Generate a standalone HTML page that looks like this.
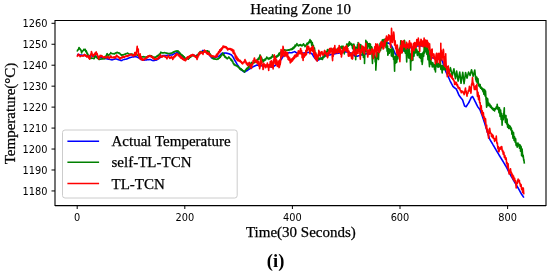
<!DOCTYPE html>
<html><head><meta charset="utf-8"><style>
html,body{margin:0;padding:0;background:#fff;}
svg{display:block;}
.tk{font-family:"DejaVu Sans",sans-serif;font-size:9.8px;fill:#000;}
.lb{font-family:"Liberation Serif",serif;font-size:15px;fill:#000;stroke:#000;stroke-width:0.25px;}
.bl{font-family:"Liberation Serif",serif;font-size:18.5px;font-weight:bold;fill:#000;}
</style></head><body>
<svg width="550" height="274" viewBox="0 0 550 274">
<rect x="0" y="0" width="550" height="274" fill="#fff"/>
<polyline points="77.00,54.40 77.20,54.44 77.74,54.55 78.28,54.66 78.81,54.76 79.35,54.87 79.89,54.98 80.00,55.00 80.43,55.04 80.97,55.10 81.50,55.15 82.04,55.20 82.58,55.26 83.12,55.31 83.66,55.37 84.19,55.42 84.73,55.47 85.00,55.50 85.27,55.53 85.81,55.58 86.35,55.63 86.88,55.69 87.42,55.74 87.96,55.80 88.50,55.85 89.04,55.90 89.57,55.96 90.00,56.00 90.11,56.00 90.65,56.02 91.19,56.04 91.73,56.06 92.26,56.08 92.80,56.09 93.34,56.11 93.88,56.13 94.42,56.15 94.95,56.17 95.49,56.18 96.00,56.20 96.03,56.21 96.57,56.38 97.11,56.56 97.64,56.73 98.18,56.91 98.72,57.08 99.26,57.26 99.80,57.43 100.00,57.50 100.33,57.57 100.87,57.67 101.41,57.78 101.95,57.89 102.49,58.00 103.02,58.10 103.56,58.21 104.10,58.32 104.64,58.43 105.00,58.50 105.18,58.53 105.71,58.62 106.25,58.72 106.79,58.81 107.33,58.91 107.87,59.00 108.40,59.10 108.94,59.19 109.00,59.20 109.48,59.31 110.02,59.44 110.56,59.56 111.09,59.69 111.63,59.81 112.00,59.90 112.17,59.85 112.71,59.68 113.25,59.52 113.78,59.35 114.32,59.19 114.86,59.03 115.40,58.86 115.60,58.80 115.94,58.90 116.47,59.05 117.01,59.21 117.55,59.37 118.00,59.50 118.09,59.53 118.63,59.70 119.16,59.87 119.70,60.03 120.24,60.20 120.78,60.37 121.32,60.54 121.50,60.60 121.85,60.42 122.39,60.15 122.93,59.89 123.47,59.62 123.70,59.50 124.01,59.46 124.54,59.39 125.08,59.32 125.62,59.25 126.00,59.20 126.16,59.13 126.70,58.90 127.23,58.67 127.77,58.44 128.31,58.21 128.85,57.98 129.39,57.75 129.50,57.70 129.92,57.60 130.46,57.47 131.00,57.34 131.54,57.21 132.08,57.08 132.40,57.00 132.61,56.98 133.15,56.92 133.69,56.86 134.23,56.80 134.77,56.74 135.30,56.69 135.84,56.63 136.10,56.60 136.38,56.74 136.92,56.99 137.46,57.25 137.99,57.51 138.53,57.77 139.00,58.00 139.07,58.05 139.61,58.41 140.15,58.78 140.68,59.15 141.20,59.50 141.22,59.51 141.76,59.64 142.30,59.77 142.84,59.89 143.37,60.02 143.91,60.15 144.10,60.20 144.45,60.15 144.99,60.08 145.53,60.00 146.06,59.93 146.60,59.85 147.00,59.80 147.14,59.79 147.68,59.74 148.22,59.69 148.75,59.64 149.29,59.59 149.83,59.53 150.20,59.50 150.37,59.56 150.91,59.77 151.44,59.97 151.98,60.18 152.52,60.38 153.06,60.58 153.10,60.60 153.60,60.53 154.13,60.46 154.67,60.38 155.21,60.31 155.75,60.23 156.00,60.20 156.29,60.04 156.82,59.73 157.36,59.43 157.90,59.12 158.44,58.82 158.98,58.51 159.00,58.50 159.51,58.07 160.05,57.62 160.59,57.18 161.13,56.73 161.67,56.28 162.20,55.83 162.60,55.50 162.74,55.50 163.28,55.50 163.82,55.50 164.36,55.50 164.89,55.50 165.43,55.50 165.97,55.50 166.20,55.50 166.51,55.47 167.05,55.41 167.58,55.35 168.12,55.29 168.66,55.23 169.20,55.18 169.74,55.12 169.90,55.10 170.27,55.08 170.81,55.06 171.35,55.03 171.89,55.01 172.00,55.00 172.43,54.76 172.96,54.46 173.50,54.15 174.04,53.85 174.30,53.70 174.58,53.59 175.12,53.39 175.65,53.19 176.19,52.98 176.73,52.78 177.20,52.60 177.27,52.64 177.81,52.97 178.34,53.30 178.88,53.62 179.42,53.95 179.50,54.00 179.96,54.43 180.50,54.92 181.03,55.42 181.57,55.92 182.11,56.42 182.30,56.60 182.65,56.95 183.19,57.49 183.72,58.02 184.26,58.56 184.80,59.10 185.20,59.50 185.34,59.44 185.88,59.21 186.41,58.97 186.95,58.74 187.49,58.50 187.50,58.50 188.03,58.18 188.57,57.86 189.10,57.54 189.64,57.21 190.00,57.00 190.18,56.88 190.72,56.52 191.26,56.16 191.79,55.80 192.33,55.45 192.87,55.09 193.00,55.00 193.41,55.14 193.95,55.32 194.48,55.49 195.02,55.67 195.56,55.85 196.00,56.00 196.10,55.93 196.64,55.58 197.17,55.22 197.71,54.86 198.25,54.50 198.79,54.14 199.00,54.00 199.33,53.71 199.86,53.22 200.40,52.74 200.94,52.25 201.48,51.77 202.02,51.29 202.55,50.80 203.00,50.40 203.09,50.44 203.63,50.65 204.17,50.87 204.71,51.08 205.24,51.30 205.78,51.51 206.32,51.73 206.86,51.94 207.00,52.00 207.40,52.51 207.93,53.19 208.47,53.88 209.01,54.57 209.55,55.25 210.09,55.94 210.62,56.63 211.16,57.31 211.70,58.00 211.70,58.00 212.24,57.92 212.78,57.84 213.31,57.76 213.85,57.67 214.39,57.59 214.93,57.51 215.00,57.50 215.47,57.35 216.00,57.17 216.54,57.00 217.08,56.82 217.62,56.65 218.16,56.47 218.69,56.30 219.00,56.20 219.23,55.98 219.77,55.46 220.31,54.94 220.85,54.42 221.38,53.90 221.92,53.38 222.00,53.30 222.46,53.26 223.00,53.22 223.54,53.18 224.07,53.14 224.61,53.09 225.15,53.05 225.69,53.01 225.80,53.00 226.23,53.10 226.76,53.22 227.30,53.35 227.84,53.48 228.38,53.60 228.80,53.70 228.92,53.76 229.45,54.02 229.99,54.28 230.53,54.54 231.07,54.79 231.61,55.05 231.70,55.10 232.14,55.77 232.68,56.57 233.22,57.38 233.50,57.80 233.76,58.28 234.30,59.29 234.83,60.29 235.00,60.60 235.37,61.26 235.91,62.21 236.45,63.17 236.99,64.12 237.20,64.50 237.52,64.96 238.06,65.74 238.60,66.51 239.14,67.28 239.50,67.80 239.68,67.99 240.21,68.59 240.75,69.18 241.29,69.77 241.50,70.00 241.83,70.23 242.37,70.61 242.90,70.98 243.44,71.36 243.98,71.74 244.50,72.10 244.52,72.09 245.06,71.76 245.59,71.43 246.13,71.10 246.67,70.77 247.21,70.45 247.75,70.12 248.10,69.90 248.28,69.78 248.82,69.42 249.36,69.07 249.90,68.71 250.44,68.36 250.97,68.01 251.51,67.65 252.05,67.30 252.50,67.00 252.59,66.96 253.13,66.72 253.66,66.47 254.20,66.23 254.74,65.98 255.28,65.74 255.82,65.49 256.35,65.25 256.89,65.00 256.90,65.00 257.43,65.09 257.97,65.17 258.51,65.26 259.04,65.35 259.58,65.43 260.00,65.50 260.12,65.51 260.66,65.55 261.20,65.59 261.73,65.63 262.27,65.67 262.81,65.71 263.35,65.75 263.89,65.79 264.00,65.80 264.42,65.86 264.96,65.94 265.50,66.01 266.04,66.09 266.58,66.17 267.11,66.24 267.65,66.32 268.19,66.40 268.73,66.48 269.27,66.55 269.60,66.60 269.80,66.65 270.34,66.78 270.88,66.91 271.42,67.04 271.96,67.17 272.49,67.30 272.50,67.30 273.03,66.92 273.57,66.53 274.11,66.14 274.65,65.75 275.00,65.50 275.18,65.37 275.72,64.98 276.26,64.60 276.80,64.22 277.34,63.83 277.87,63.45 278.41,63.06 278.50,63.00 278.95,62.42 279.49,61.72 280.03,61.02 280.56,60.32 281.10,59.63 281.20,59.50 281.64,58.77 282.18,57.87 282.72,56.97 283.00,56.50 283.25,56.25 283.79,55.71 284.33,55.17 284.87,54.63 285.00,54.50 285.41,54.30 285.94,54.04 286.48,53.78 287.02,53.52 287.56,53.25 288.10,52.99 288.63,52.73 288.90,52.60 289.17,52.62 289.71,52.66 290.25,52.69 290.79,52.73 291.32,52.77 291.80,52.80 291.86,52.77 292.40,52.55 292.94,52.33 293.48,52.11 294.01,51.88 294.55,51.66 294.70,51.60 295.09,51.87 295.63,52.23 296.17,52.60 296.70,52.97 296.90,53.10 297.24,53.09 297.78,53.07 298.32,53.05 298.86,53.04 299.39,53.02 299.93,53.00 300.00,53.00 300.47,53.00 301.01,53.00 301.55,53.00 302.08,53.00 302.62,53.00 303.16,53.00 303.70,53.00 304.00,53.00 304.24,52.97 304.77,52.90 305.31,52.83 305.85,52.76 306.39,52.69 306.93,52.62 307.46,52.55 308.00,52.48 308.54,52.41 308.60,52.40 309.08,52.47 309.62,52.55 310.00,52.60 310.15,52.70 310.69,53.04 311.23,53.38 311.77,53.73 312.20,54.00 312.31,54.18 312.84,55.08 313.38,55.99 313.92,56.89 314.40,57.70 314.46,57.76 315.00,58.30 315.53,58.83 316.07,59.37 316.61,59.91 317.15,60.45 317.30,60.60 317.69,60.40 318.22,60.12 318.76,59.84 319.30,59.57 319.84,59.29 320.20,59.10 320.38,58.97 320.91,58.58 321.45,58.19 321.99,57.80 322.53,57.41 323.07,57.02 323.10,57.00 323.60,56.75 324.14,56.48 324.68,56.21 325.22,55.94 325.76,55.67 326.10,55.50 326.29,55.47 326.83,55.38 327.37,55.29 327.91,55.21 328.45,55.12 328.98,55.03 329.52,54.94 330.06,54.86 330.40,54.80 330.60,54.75 331.14,54.60 331.67,54.46 332.21,54.32 332.75,54.17 333.29,54.03 333.40,54.00 333.83,53.93 334.36,53.84 334.90,53.76 335.44,53.67 335.98,53.58 336.52,53.49 337.05,53.41 337.59,53.32 337.70,53.30 338.13,53.23 338.67,53.15 339.21,53.06 339.74,52.97 340.28,52.89 340.82,52.80 341.36,52.72 341.90,52.63 342.10,52.60 342.43,52.51 342.97,52.36 343.51,52.21 344.05,52.06 344.59,51.91 345.00,51.80 345.12,51.81 345.66,51.84 346.20,51.87 346.74,51.90 347.28,51.93 347.81,51.96 348.35,51.99 348.60,52.00 348.89,52.16 349.43,52.45 349.97,52.74 350.50,53.03 351.04,53.32 351.58,53.61 352.12,53.90 352.30,54.00 352.66,54.31 353.19,54.77 353.73,55.24 354.27,55.70 354.50,55.90 354.81,55.93 355.35,55.99 355.88,56.04 356.42,56.10 356.96,56.15 357.40,56.20 357.50,56.17 358.04,56.00 358.57,55.83 359.11,55.66 359.65,55.48 360.19,55.31 360.73,55.14 361.26,54.97 361.80,54.80 361.80,54.80 362.34,54.67 362.88,54.53 363.42,54.40 363.95,54.26 364.49,54.13 365.00,54.00 365.03,54.00 365.57,53.93 366.11,53.85 366.64,53.78 367.18,53.71 367.72,53.64 368.26,53.57 368.80,53.50 368.80,53.50 369.33,53.25 369.87,52.99 370.41,52.73 370.95,52.48 371.49,52.22 372.02,51.96 372.56,51.71 373.00,51.50 373.10,51.45 373.64,51.18 374.18,50.91 374.71,50.64 375.25,50.37 375.79,50.11 376.33,49.84 376.87,49.57 377.00,49.50 377.40,49.30 377.94,49.03 378.48,48.76 379.02,48.49 379.56,48.22 380.09,47.95 380.63,47.68 381.00,47.50 381.17,47.39 381.71,47.04 382.25,46.70 382.78,46.35 383.32,46.00 383.86,45.65 384.10,45.50 384.40,45.28 384.94,44.87 385.47,44.47 386.01,44.07 386.55,43.66 387.09,43.26 387.63,42.86 387.70,42.80 388.16,42.99 388.70,43.20 389.24,43.42 389.70,43.60 389.78,43.69 390.32,44.29 390.85,44.89 391.39,45.49 391.40,45.50 391.93,46.56 392.47,47.64 393.01,48.71 393.30,49.30 393.54,49.86 394.08,51.11 394.62,52.36 395.16,53.60 395.20,53.70 395.70,54.39 396.23,55.13 396.50,55.50 396.77,55.34 397.31,55.01 397.85,54.69 398.39,54.37 398.92,54.05 399.00,54.00 399.46,53.62 400.00,53.17 400.54,52.72 401.08,52.27 401.61,51.82 402.00,51.50 402.15,51.42 402.69,51.13 403.23,50.83 403.77,50.54 404.30,50.25 404.84,49.96 405.38,49.66 405.92,49.37 406.46,49.08 406.60,49.00 406.99,48.87 407.53,48.68 408.07,48.50 408.61,48.32 409.15,48.13 409.68,47.95 410.22,47.77 410.76,47.58 411.00,47.50 411.30,47.43 411.84,47.31 412.37,47.18 412.91,47.06 413.45,46.93 413.99,46.81 414.53,46.69 415.06,46.56 415.60,46.44 416.14,46.31 416.68,46.19 417.22,46.07 417.50,46.00 417.75,46.00 418.29,46.00 418.83,46.00 419.37,46.00 419.91,46.00 420.44,46.00 420.98,46.00 421.00,46.00 421.52,46.00 422.06,46.00 422.60,46.00 423.13,46.00 423.67,46.00 424.21,46.00 424.75,46.00 425.29,46.00 425.60,46.00 425.82,46.47 426.36,47.60 426.90,48.74 427.44,49.87 427.50,50.00 427.98,51.22 428.51,52.59 429.05,53.97 429.30,54.60 429.59,55.06 430.13,55.91 430.67,56.77 431.00,57.30 431.20,57.37 431.74,57.55 432.28,57.73 432.82,57.91 433.36,58.09 433.89,58.26 434.00,58.30 434.43,58.33 434.97,58.36 435.51,58.40 436.05,58.44 436.58,58.47 437.00,58.50 437.12,58.49 437.66,58.44 438.20,58.40 438.74,58.35 439.27,58.31 439.81,58.26 440.35,58.21 440.50,58.20 440.89,58.84 441.43,59.73 441.96,60.62 442.50,61.50 442.50,61.51 443.04,63.32 443.58,65.13 444.12,66.94 444.40,67.90 444.65,68.55 445.19,69.93 445.73,71.31 446.00,72.00 446.27,72.54 446.81,73.61 447.34,74.69 447.88,75.76 448.00,76.00 448.42,76.97 448.96,78.22 449.50,79.47 450.03,80.71 450.20,81.10 450.57,81.82 451.11,82.86 451.65,83.90 451.70,84.00 452.19,84.93 452.72,85.96 452.90,86.30 453.26,86.64 453.80,87.14 454.34,87.65 454.50,87.80 454.88,88.03 455.41,88.37 455.95,88.71 456.10,88.80 456.49,89.61 457.03,90.72 457.50,91.70 457.57,91.86 458.10,93.15 458.64,94.44 459.00,95.30 459.18,95.54 459.72,96.25 460.26,96.96 460.79,97.66 461.20,98.20 461.33,98.37 461.87,99.06 462.41,99.75 462.60,100.00 462.95,101.04 463.48,102.65 464.02,104.27 464.56,105.88 464.60,106.00 465.10,106.23 465.64,106.48 466.10,106.70 466.17,106.59 466.71,105.77 467.25,104.96 467.79,104.14 468.33,103.32 468.86,102.51 469.00,102.30 469.40,101.42 469.94,100.25 470.48,99.08 471.02,97.90 471.20,97.50 471.55,97.25 472.09,96.86 472.60,96.50 472.63,96.56 473.17,97.61 473.71,98.66 474.24,99.71 474.78,100.76 474.80,100.80 475.32,101.86 475.86,102.95 476.40,104.05 476.93,105.14 477.47,106.24 477.70,106.70 478.01,107.11 478.55,107.82 479.09,108.53 479.62,109.24 479.90,109.60 480.16,110.29 480.70,111.71 481.24,113.13 481.78,114.55 482.10,115.40 482.31,116.05 482.85,117.68 483.39,119.31 483.93,120.95 484.47,122.58 485.00,124.20 485.00,124.21 485.54,126.00 486.08,127.78 486.62,129.57 487.16,131.35 487.20,131.50 487.69,133.02 488.23,134.68 488.77,136.34 489.31,137.99 489.70,139.20 489.85,139.44 490.38,140.34 490.92,141.24 491.46,142.13 492.00,143.03 492.54,143.93 493.00,144.70 493.07,144.83 493.61,145.74 494.15,146.66 494.69,147.58 495.23,148.50 495.76,149.41 496.30,150.33 496.40,150.50 496.84,151.23 497.38,152.13 497.92,153.03 498.45,153.92 498.99,154.82 499.53,155.72 499.70,156.00 500.07,156.60 500.61,157.48 501.14,158.36 501.68,159.24 502.22,160.12 502.76,161.00 503.00,161.40 503.30,161.89 503.83,162.79 504.37,163.69 504.91,164.58 505.45,165.48 505.99,166.38 506.30,166.90 506.52,167.35 507.06,168.42 507.60,169.50 508.14,170.58 508.68,171.65 509.20,172.70 509.21,172.72 509.75,173.66 510.29,174.60 510.83,175.54 511.37,176.48 511.90,177.42 512.44,178.36 512.98,179.30 513.52,180.24 514.06,181.17 514.30,181.60 514.59,182.09 515.13,183.00 515.67,183.91 516.21,184.81 516.75,185.72 517.28,186.63 517.82,187.53 518.10,188.00 518.36,188.47 518.90,189.45 519.44,190.42 519.97,191.40 520.51,192.37 521.05,193.35 521.30,193.80 521.59,194.22 522.13,195.01 522.66,195.79 523.20,196.58 523.74,197.37 523.90,197.60" fill="none" stroke="#0000ff" stroke-width="1.6" stroke-linejoin="round" stroke-linecap="butt"/>
<polyline points="77.00,51.50 77.20,51.11 77.74,49.73 78.28,49.74 78.81,48.31 79.00,47.50 79.35,49.04 79.89,48.52 80.43,49.72 80.50,49.30 80.97,50.38 81.50,52.17 81.60,53.00 82.04,51.17 82.58,51.37 83.12,50.25 83.66,50.15 83.80,49.30 84.19,49.38 84.73,50.16 85.20,49.30 85.27,49.43 85.81,51.72 86.35,50.87 86.70,52.20 86.88,53.46 87.42,53.17 87.96,55.46 88.10,55.10 88.50,55.13 89.04,57.94 89.57,57.43 89.60,58.80 90.11,58.54 90.65,57.70 91.19,58.31 91.50,58.00 91.73,57.98 92.26,58.31 92.80,58.17 93.34,58.51 93.88,58.13 94.00,58.80 94.42,58.11 94.95,56.77 95.40,55.90 95.49,56.77 96.03,56.68 96.57,57.59 97.00,57.50 97.11,57.38 97.64,58.50 98.18,58.22 98.72,59.29 99.10,59.50 99.26,59.01 99.80,59.40 100.33,59.06 100.87,59.18 101.41,58.98 101.50,59.00 101.95,59.06 102.49,58.77 103.02,58.90 103.56,58.48 104.10,58.98 104.20,58.80 104.64,57.44 105.18,57.92 105.70,56.60 105.71,55.97 106.25,56.09 106.79,54.22 107.10,53.70 107.33,54.86 107.87,54.45 108.40,55.57 108.60,55.90 108.94,54.89 109.48,54.59 110.02,53.71 110.56,53.54 110.80,52.60 111.09,53.04 111.63,53.52 112.17,53.50 112.20,53.70 112.71,53.76 113.25,53.63 113.78,53.88 114.32,53.65 114.40,54.00 114.86,53.73 115.40,53.06 115.94,53.22 116.47,52.59 117.01,52.65 117.10,52.20 117.55,52.42 118.09,53.01 118.63,52.74 119.16,53.46 119.30,53.00 119.70,53.22 120.24,54.19 120.78,54.32 121.32,55.36 121.50,55.50 121.85,54.87 122.39,55.11 122.93,54.82 123.47,54.87 123.70,54.80 124.01,54.37 124.54,54.48 125.08,54.02 125.62,54.14 125.90,53.70 126.16,53.55 126.70,53.63 127.23,53.31 127.70,53.00 127.77,53.37 128.31,53.47 128.85,53.97 129.39,54.11 129.50,54.40 129.92,54.27 130.46,54.09 131.00,54.23 131.54,54.06 131.70,54.00 132.08,54.28 132.61,54.31 133.15,54.59 133.69,54.55 133.90,54.80 134.23,54.72 134.77,54.61 135.30,54.72 135.84,54.51 136.00,54.50 136.38,54.81 136.92,54.85 137.46,55.31 137.99,55.11 138.50,55.50 138.53,55.91 139.07,55.58 139.61,56.49 140.15,56.41 140.68,57.05 141.20,57.30 141.22,56.93 141.76,57.06 142.30,56.86 142.84,56.89 143.37,56.68 143.40,56.60 143.91,56.88 144.45,56.88 144.99,57.12 145.53,57.08 145.60,57.30 146.06,57.16 146.60,56.80 147.14,56.96 147.68,56.42 147.80,56.60 148.22,56.62 148.75,56.09 149.29,56.13 149.83,55.63 150.00,55.50 150.37,55.93 150.91,55.75 151.44,56.15 151.50,55.80 151.98,56.16 152.52,56.84 153.06,57.02 153.10,57.30 153.60,57.49 154.13,57.15 154.67,57.50 155.21,57.33 155.30,57.70 155.75,57.37 156.29,56.49 156.82,56.59 157.36,55.47 157.50,55.90 157.90,56.23 158.44,54.98 158.98,55.44 159.00,55.10 159.51,53.94 160.05,53.98 160.59,52.70 160.80,52.20 161.13,52.92 161.67,52.52 162.20,53.02 162.60,53.00 162.74,52.82 163.28,52.91 163.82,52.74 164.36,52.77 164.80,52.60 164.89,52.67 165.43,52.94 165.97,52.88 166.51,53.26 167.00,53.30 167.05,53.16 167.58,53.50 168.12,53.40 168.66,53.58 169.20,53.56 169.20,53.70 169.74,53.58 170.27,53.33 170.81,53.52 171.35,53.13 171.40,53.30 171.89,53.17 172.43,52.50 172.96,52.67 173.50,52.20 173.50,51.90 174.04,52.21 174.58,51.43 175.12,51.55 175.65,51.13 175.70,51.10 176.19,51.22 176.73,50.91 177.27,51.39 177.81,50.98 177.90,50.80 178.34,51.98 178.88,51.63 179.40,52.60 179.42,53.29 179.96,52.89 180.50,54.37 181.03,54.06 181.57,55.21 181.60,55.10 182.11,54.87 182.65,56.05 183.19,55.72 183.72,56.95 183.80,56.60 184.26,56.83 184.80,58.21 185.34,58.13 185.88,59.16 186.00,59.50 186.41,58.45 186.95,58.18 187.40,57.30 187.49,57.50 188.03,58.51 188.40,59.20 188.57,58.28 189.10,58.34 189.64,57.17 190.00,57.00 190.18,57.37 190.72,56.29 191.26,56.60 191.79,55.58 192.33,55.71 192.80,55.00 192.87,55.28 193.41,55.81 193.95,55.64 194.48,56.19 195.02,56.24 195.56,56.75 195.70,57.00 196.10,56.09 196.64,56.46 197.17,54.90 197.71,55.81 198.00,55.00 198.25,54.12 198.79,54.26 199.33,52.55 199.86,52.50 200.10,51.50 200.40,51.71 200.94,52.02 201.48,51.70 202.02,51.90 202.55,51.84 203.00,52.00 203.09,51.91 203.63,51.70 204.17,51.75 204.71,51.48 205.00,51.50 205.24,51.53 205.78,51.22 206.32,51.32 206.86,50.88 207.40,51.31 207.40,50.80 207.93,50.94 208.47,52.00 208.80,51.50 209.01,51.44 209.55,53.88 210.09,53.73 210.50,55.00 210.62,55.60 211.16,55.40 211.70,56.97 212.24,56.86 212.78,58.60 213.20,58.80 213.31,58.21 213.85,58.99 214.39,58.71 214.93,59.18 215.47,59.05 216.00,59.30 216.54,59.23 216.80,59.50 217.08,59.34 217.62,58.80 218.16,59.05 218.69,58.13 219.00,58.40 219.23,58.28 219.77,57.03 220.31,57.33 220.50,56.50 220.85,55.57 221.38,55.87 221.92,54.44 222.46,54.32 222.90,52.90 223.00,53.51 223.54,55.14 224.07,54.79 224.61,56.68 225.10,57.30 225.15,56.37 225.69,57.65 226.23,57.41 226.76,58.32 227.30,58.80 227.30,58.30 227.84,58.19 228.38,57.40 228.80,56.90 228.92,57.66 229.45,57.59 229.99,58.79 230.53,58.71 230.90,59.50 231.07,60.30 231.61,59.55 232.14,61.44 232.40,61.00 232.68,61.19 233.22,63.33 233.50,63.90 233.76,63.38 234.30,64.93 234.83,64.49 235.30,65.30 235.37,65.55 235.91,65.26 236.45,65.95 236.99,65.82 237.50,66.10 237.52,66.73 238.06,66.41 238.60,67.68 239.14,67.60 239.50,68.40 239.68,68.84 240.21,68.33 240.75,69.56 241.29,68.92 241.83,70.05 241.90,69.70 242.37,69.80 242.90,70.80 243.44,70.69 243.98,71.47 244.50,72.10 244.52,71.17 245.06,71.17 245.59,69.69 246.13,69.79 246.30,69.00 246.67,68.22 247.21,69.18 247.40,68.40 247.75,67.72 248.28,68.21 248.82,66.11 249.20,66.80 249.36,67.08 249.90,64.95 250.44,64.96 250.97,63.28 251.40,62.40 251.51,63.17 252.05,62.81 252.50,63.30 252.59,63.60 253.13,62.72 253.66,63.03 254.20,62.31 254.70,62.60 254.74,62.70 255.28,61.39 255.80,61.00 255.82,61.93 256.35,60.50 256.89,61.81 256.90,61.10 257.43,59.31 257.97,59.89 258.00,59.50 258.51,57.97 259.04,59.25 259.10,58.90 259.58,56.70 260.10,54.90 260.12,57.53 260.66,56.32 261.20,58.58 261.50,58.00 261.73,57.84 262.27,60.71 262.81,59.87 263.00,62.20 263.35,61.47 263.89,59.93 264.42,60.60 264.50,60.50 264.96,59.09 265.50,59.95 266.04,58.30 266.58,58.47 266.70,57.10 267.11,57.60 267.65,58.67 268.19,58.22 268.73,58.86 268.90,59.30 269.27,58.01 269.80,58.72 270.34,57.49 270.88,58.53 271.10,57.80 271.42,56.84 271.96,57.31 272.49,55.44 272.50,54.90 273.03,56.72 273.57,56.10 274.11,57.27 274.50,57.50 274.65,56.59 275.18,57.47 275.72,56.63 276.26,57.10 276.80,55.87 276.90,57.10 277.34,56.58 277.87,55.00 277.90,55.50 278.41,55.98 278.95,53.27 279.10,54.20 279.49,54.99 280.03,52.61 280.56,53.47 280.80,52.60 281.10,51.33 281.64,52.67 282.18,50.74 282.50,51.00 282.72,51.27 283.25,50.41 283.79,50.59 284.33,49.78 284.50,49.70 284.87,50.23 285.41,50.04 285.94,50.28 286.48,50.16 286.90,50.50 287.02,50.37 287.56,49.98 288.10,50.26 288.63,49.83 289.17,50.10 289.60,49.70 289.71,49.51 290.25,49.77 290.79,49.15 291.32,49.69 291.86,48.65 292.40,49.36 292.50,49.00 292.94,47.65 293.48,48.66 294.01,46.84 294.55,47.65 294.70,46.80 295.09,45.11 295.63,46.43 296.17,44.80 296.70,44.90 296.90,43.50 297.24,44.35 297.78,45.42 298.32,45.28 298.40,46.00 298.86,45.48 299.39,44.87 299.93,45.40 300.47,44.69 300.50,44.60 301.01,45.38 301.55,45.17 302.00,46.00 302.08,45.73 302.62,44.87 303.16,45.01 303.50,43.80 303.70,44.47 304.24,45.45 304.77,45.22 305.00,46.70 305.31,46.09 305.85,44.99 306.39,45.21 306.50,45.00 306.93,43.36 307.46,44.72 308.00,42.76 308.54,43.42 308.60,43.10 309.08,41.41 309.62,42.40 310.00,39.60 310.15,40.20 310.69,42.44 311.00,41.00 311.23,41.10 311.77,45.77 312.20,44.80 312.31,42.67 312.84,48.49 313.00,46.00 313.38,45.42 313.92,50.08 314.40,50.00 314.46,47.93 315.00,53.32 315.53,52.61 315.80,55.00 316.07,57.06 316.61,55.71 317.15,59.31 317.30,59.90 317.69,57.09 318.22,59.10 318.76,58.06 319.30,59.10 319.84,58.46 320.20,58.00 320.38,58.67 320.91,58.21 321.45,59.05 321.99,58.19 322.40,59.50 322.53,59.33 323.07,56.93 323.60,57.65 324.14,54.84 324.60,55.50 324.68,56.73 325.22,52.37 325.76,54.80 326.29,51.74 326.83,52.59 327.37,50.01 327.50,49.60 327.91,51.19 328.45,50.04 328.98,50.64 329.50,50.50 329.52,49.88 330.06,50.06 330.60,49.71 331.14,49.99 331.67,49.17 331.90,48.90 332.21,49.80 332.75,49.52 333.29,50.39 333.83,50.16 334.00,51.00 334.36,50.68 334.90,50.11 335.44,50.57 335.98,49.65 336.30,50.00 336.52,50.35 337.05,49.02 337.59,49.80 338.13,48.43 338.67,48.97 339.20,48.20 339.21,47.78 339.74,48.14 340.28,46.97 340.82,48.01 341.36,46.21 341.90,48.60 342.10,46.70 342.43,46.31 342.97,49.48 343.00,46.00 343.51,47.31 344.05,50.42 344.30,54.00 344.59,47.79 345.12,50.00 345.60,48.00 345.66,46.75 346.20,49.78 346.74,43.98 347.28,47.38 347.81,44.02 347.90,45.50 348.35,46.17 348.89,43.33 349.40,41.80 349.43,45.16 349.97,42.79 350.50,44.44 350.80,43.30 351.04,43.58 351.58,45.13 352.12,44.26 352.30,47.00 352.66,48.77 353.19,44.96 353.73,48.49 353.80,44.00 354.27,45.61 354.81,50.61 355.00,47.00 355.35,47.17 355.70,59.80 355.88,53.50 356.42,47.59 356.70,50.60 356.96,52.00 357.50,44.62 358.04,50.35 358.10,42.60 358.57,45.03 359.11,47.79 359.60,44.80 359.65,44.81 360.19,48.95 360.73,44.59 361.10,47.70 361.26,52.01 361.80,47.99 362.34,54.95 362.50,50.00 362.88,46.90 363.42,57.40 363.95,47.63 364.49,58.74 364.50,63.50 365.03,48.04 365.57,51.13 365.80,40.40 366.11,41.21 366.64,52.03 367.18,42.10 367.60,45.50 367.72,48.31 368.26,43.82 368.80,46.13 369.10,44.80 369.33,43.65 369.87,48.91 370.41,43.98 370.50,45.50 370.95,52.20 371.49,46.71 372.00,47.70 372.02,55.50 372.50,63.50 372.56,50.56 373.10,58.68 373.64,52.37 374.00,50.00 374.18,57.27 374.71,52.72 375.25,61.99 375.79,57.44 375.80,70.10 376.33,61.86 376.87,54.20 377.00,52.00 377.40,58.29 377.94,52.96 378.00,57.50 378.48,59.52 379.02,48.67 379.50,50.00 379.56,51.60 380.09,43.21 380.50,46.20 380.63,50.10 381.17,43.41 381.60,43.00 381.71,47.63 382.25,40.00 382.78,43.17 383.20,39.60 383.32,40.14 383.86,41.77 384.40,40.06 384.60,39.50 384.94,45.20 385.47,38.53 386.01,47.81 386.55,39.83 386.80,42.20 387.09,51.26 387.63,45.95 387.80,55.20 388.16,54.19 388.70,48.91 389.24,53.29 389.50,51.50 389.78,49.11 390.32,51.81 390.85,50.49 391.10,49.50 391.39,55.99 391.93,47.76 392.10,51.00 392.47,56.65 393.01,50.04 393.40,51.20 393.50,56.50 393.54,59.52 394.08,56.69 394.60,71.30 394.62,67.22 395.16,56.63 395.70,63.27 395.80,58.80 396.23,56.03 396.40,55.50 396.60,56.00 396.77,62.20 397.31,53.20 397.70,58.20 397.85,58.94 398.39,50.49 398.92,54.95 399.46,48.35 399.50,52.00 400.00,51.97 400.54,45.27 400.80,40.90 401.08,50.66 401.61,44.51 402.15,50.63 402.20,52.60 402.69,45.85 403.23,49.27 403.77,42.86 404.30,51.49 404.40,40.20 404.84,42.24 405.38,53.22 405.50,46.00 405.90,50.00 405.92,45.83 406.46,56.48 406.70,62.00 406.99,50.87 407.50,54.00 407.53,54.65 408.07,48.06 408.61,58.05 408.80,46.80 409.15,48.93 409.60,52.00 409.68,58.33 410.22,54.26 410.70,70.10 410.76,64.45 411.30,53.66 411.80,56.00 411.84,60.65 412.37,52.41 412.91,60.24 413.00,54.60 413.45,48.76 413.99,56.16 414.53,49.55 414.60,48.90 415.06,53.15 415.60,49.26 415.80,47.50 416.14,52.37 416.68,49.35 417.22,54.44 417.50,55.50 417.75,51.38 418.29,54.47 418.80,52.50 418.83,51.85 419.37,57.18 419.91,53.47 420.00,55.50 420.44,58.31 420.98,53.94 421.10,54.10 421.50,61.60 421.52,59.37 422.06,53.49 422.20,64.50 422.60,60.55 423.13,52.18 423.67,56.26 424.10,49.70 424.21,46.18 424.75,52.84 425.29,43.87 425.60,43.80 425.82,51.36 426.36,44.36 426.90,54.47 426.90,45.00 427.44,48.36 427.98,59.75 428.20,55.00 428.51,49.45 429.05,60.90 429.50,66.70 429.59,56.24 430.13,62.55 430.30,56.00 430.67,58.80 431.00,62.00 431.20,64.34 431.74,62.17 432.28,66.96 432.82,62.73 433.10,65.20 433.36,66.81 433.89,64.45 434.43,67.98 434.60,69.60 434.97,64.90 435.50,72.00 435.51,69.99 436.05,63.58 436.50,57.00 436.58,65.72 437.12,62.27 437.50,67.00 437.66,66.91 438.20,63.57 438.74,67.23 439.27,62.97 439.70,63.80 439.81,66.45 440.30,57.00 440.35,60.93 440.89,69.41 441.00,66.00 441.43,65.73 441.96,70.33 442.20,73.00 442.50,65.43 443.04,69.69 443.58,67.46 444.00,66.50 444.12,69.44 444.65,67.34 445.19,69.47 445.50,70.00 445.73,68.21 446.27,69.31 446.81,67.70 447.34,66.87 447.50,66.61 447.88,68.66 448.42,71.56 448.82,73.71 448.96,73.19 449.50,71.15 450.03,69.11 450.41,67.69 450.57,68.44 451.11,70.94 451.65,73.44 452.19,75.94 452.20,76.01 452.72,73.81 453.26,71.55 453.80,69.28 453.91,68.82 454.34,71.57 454.88,75.02 455.41,78.47 455.44,78.64 455.95,75.52 456.49,72.24 456.67,71.14 457.03,73.72 457.57,77.60 458.07,81.23 458.10,81.05 458.64,78.11 459.18,75.18 459.72,72.25 459.75,72.07 460.26,76.58 460.79,81.37 461.01,83.30 461.33,81.29 461.87,77.93 462.41,74.57 462.76,72.37 462.95,73.96 463.48,78.56 464.02,83.17 464.07,83.58 464.56,79.98 465.10,76.02 465.58,72.48 465.64,72.70 466.17,74.83 466.71,76.95 467.02,78.17 467.25,77.25 467.79,75.09 468.33,72.94 468.54,72.08 468.86,72.79 469.40,73.97 469.94,75.15 470.08,75.46 470.48,73.89 471.02,71.77 471.53,69.74 471.55,69.84 472.09,72.01 472.63,74.18 473.15,76.28 473.17,76.21 473.71,74.14 474.24,72.07 474.78,70.00 474.78,70.02 475.32,75.29 475.80,80.00 475.86,76.27 476.40,81.74 476.60,81.10 476.93,77.31 477.30,82.90 477.47,83.16 478.00,78.90 478.01,78.85 478.55,85.32 478.80,85.80 479.09,84.12 479.62,86.75 480.16,84.59 480.20,85.80 480.70,88.26 481.24,87.13 481.70,88.80 481.78,89.47 482.31,88.34 482.85,91.14 483.10,91.70 483.39,89.09 483.93,94.31 484.47,89.47 484.60,89.50 485.00,96.05 485.54,91.08 485.70,93.90 486.08,100.00 486.20,100.00 486.60,107.30 486.62,97.56 487.16,105.85 487.69,98.72 488.00,102.90 488.23,105.45 488.77,103.15 489.31,105.91 489.85,104.30 490.20,105.80 490.38,107.25 490.92,105.73 491.46,108.16 492.00,107.43 492.40,108.80 492.54,109.46 493.07,108.27 493.61,110.20 494.15,108.87 494.60,111.00 494.69,110.29 495.23,108.36 495.50,109.00 495.76,109.14 496.30,106.86 496.84,108.46 497.20,104.40 497.38,106.57 497.92,109.37 498.30,109.90 498.45,107.23 498.99,112.65 499.40,107.70 499.53,108.93 500.07,116.45 500.61,110.09 501.00,116.40 501.14,119.34 501.68,113.46 502.10,125.20 502.22,122.23 502.76,116.08 503.20,117.50 503.30,119.69 503.83,112.96 504.30,107.70 504.37,115.81 504.90,115.30 504.91,115.14 505.45,122.32 505.99,115.61 506.00,118.60 506.52,123.74 507.00,124.10 507.06,118.99 507.60,127.17 508.14,124.29 508.68,128.26 508.70,128.50 509.21,125.42 509.75,128.38 510.29,126.23 510.30,126.30 510.83,129.88 511.30,128.00 511.37,128.29 511.90,134.15 512.44,131.05 512.70,134.90 512.98,138.16 513.52,132.43 514.06,140.48 514.59,136.84 514.90,138.10 515.13,142.17 515.67,138.86 516.00,144.70 516.21,145.42 516.75,143.26 517.20,147.20 517.28,146.27 517.82,143.11 518.00,143.00 518.36,145.86 518.90,144.34 519.40,145.00 519.44,148.30 519.97,144.86 520.40,145.80 520.51,151.28 520.90,151.00 521.05,146.34 521.50,150.20 521.59,155.65 522.13,149.01 522.66,156.60 522.70,154.90 523.20,155.38 523.74,160.31 523.80,159.20 524.40,163.60" fill="none" stroke="#008000" stroke-width="1.6" stroke-linejoin="round" stroke-linecap="butt"/>
<polyline points="76.80,56.60 77.20,56.20 77.74,55.21 78.28,55.51 78.60,54.00 78.81,54.51 79.35,55.63 79.89,55.68 80.10,56.60 80.43,56.35 80.97,55.61 81.50,55.96 81.60,55.50 82.04,55.52 82.58,56.08 83.00,56.20 83.12,55.61 83.66,55.69 84.19,54.82 84.50,54.40 84.73,55.39 85.27,54.92 85.81,56.13 86.00,55.90 86.35,55.44 86.88,57.09 87.42,56.03 87.80,56.60 87.96,57.02 88.50,55.80 89.04,58.22 89.57,57.09 89.60,59.20 90.11,57.99 90.65,54.11 91.19,54.71 91.40,51.50 91.73,52.53 92.26,55.16 92.80,54.68 92.90,56.60 93.34,55.86 93.88,54.41 94.30,54.80 94.42,55.19 94.95,53.12 95.49,54.26 96.03,52.24 96.20,51.90 96.57,54.64 97.11,53.52 97.60,55.90 97.64,57.01 98.18,56.09 98.70,59.20 98.72,59.03 99.26,56.21 99.80,57.16 100.20,55.50 100.33,55.31 100.87,56.57 101.41,55.56 101.95,56.72 102.00,55.90 102.49,56.31 103.02,57.38 103.50,57.70 103.56,56.99 104.10,57.42 104.64,56.72 104.90,56.60 105.18,57.22 105.71,57.12 106.25,57.99 106.40,58.00 106.79,57.21 107.33,57.33 107.80,56.20 107.87,56.41 108.40,57.63 108.94,57.57 109.30,58.80 109.48,58.18 110.02,56.90 110.56,57.13 110.80,55.90 111.09,56.35 111.63,57.57 112.17,57.32 112.20,57.70 112.71,57.72 113.25,57.00 113.70,57.00 113.78,57.58 114.32,56.89 114.86,58.06 115.00,58.20 115.40,56.63 115.94,57.15 116.47,55.51 116.70,55.10 117.01,56.38 117.55,56.05 118.09,57.24 118.60,57.30 118.63,56.91 119.16,58.16 119.70,57.53 120.00,59.20 120.24,58.66 120.78,57.80 121.32,58.16 121.50,57.70 121.85,57.03 122.39,57.83 122.93,56.43 123.00,56.60 123.47,57.16 124.01,56.69 124.40,57.30 124.54,57.26 125.08,56.50 125.62,56.53 125.90,55.90 126.16,55.86 126.70,56.40 127.23,55.61 127.77,56.37 128.00,56.20 128.31,55.34 128.85,55.74 129.39,54.77 129.50,54.80 129.92,55.17 130.46,54.47 131.00,54.84 131.30,54.00 131.54,54.27 132.08,55.31 132.61,55.03 133.15,55.81 133.20,56.20 133.69,54.74 134.23,55.63 134.60,55.10 134.77,52.57 135.30,55.30 135.84,52.26 136.10,54.00 136.38,54.58 136.92,48.72 137.20,46.40 137.46,50.93 137.99,48.89 138.30,49.30 138.53,54.44 139.00,56.60 139.07,54.46 139.61,58.56 140.10,57.70 140.15,53.84 140.68,59.46 141.20,58.40 141.22,56.67 141.76,59.80 142.30,58.78 142.70,60.20 142.84,60.13 143.37,59.08 143.91,59.82 144.10,59.50 144.45,58.82 144.99,59.29 145.53,57.96 145.60,58.40 146.06,58.59 146.60,57.13 147.00,57.70 147.14,57.94 147.68,56.29 148.22,57.00 148.50,55.90 148.75,55.90 149.29,56.37 149.83,55.62 150.00,55.50 150.37,56.56 150.91,56.13 151.40,56.60 151.44,57.10 151.98,56.51 152.50,57.50 152.52,58.09 153.06,57.27 153.40,58.40 153.60,58.81 154.13,58.35 154.67,59.45 155.21,58.97 155.30,59.50 155.75,59.27 156.29,58.85 156.82,59.18 157.36,58.23 157.50,58.80 157.90,59.08 158.44,57.03 158.98,58.21 159.00,58.00 159.51,56.45 160.05,56.86 160.40,54.80 160.59,55.06 161.13,56.94 161.67,56.48 161.90,57.30 162.20,57.00 162.74,56.00 163.28,56.26 163.30,55.90 163.82,55.95 164.36,56.74 164.89,56.12 165.43,57.27 165.50,56.60 165.97,56.66 166.51,57.80 167.00,58.80 167.05,57.82 167.58,57.71 168.12,56.08 168.40,55.50 168.66,56.80 169.20,56.72 169.74,58.23 169.90,58.40 170.27,57.42 170.81,57.96 171.35,56.68 171.40,56.60 171.89,57.97 172.43,57.61 172.80,59.50 172.96,58.99 173.50,56.79 174.04,57.70 174.30,56.60 174.58,55.79 175.12,56.71 175.65,54.27 175.70,55.10 176.19,55.64 176.73,53.87 177.20,53.70 177.27,54.53 177.81,54.27 178.34,55.70 178.70,55.10 178.88,54.66 179.42,56.62 179.96,55.51 180.10,56.60 180.50,57.85 181.03,56.40 181.57,58.42 181.60,57.70 182.11,57.38 182.65,59.33 183.00,58.80 183.19,58.45 183.72,59.93 184.26,59.06 184.50,60.20 184.80,60.51 185.34,59.48 185.60,60.80 185.88,59.94 186.41,58.11 186.90,57.70 186.95,59.00 187.49,56.88 188.03,58.38 188.40,57.30 188.57,56.60 189.10,57.21 189.64,55.74 189.80,56.20 190.18,56.32 190.72,55.17 191.26,56.13 191.30,55.50 191.79,54.82 192.33,55.21 192.80,54.40 192.87,54.70 193.41,55.77 193.95,55.01 194.20,55.50 194.48,56.43 195.02,55.58 195.56,57.25 195.70,56.60 196.10,56.44 196.64,58.41 197.10,59.50 197.17,56.66 197.71,57.86 198.25,54.53 198.60,53.70 198.79,55.66 199.33,52.50 199.86,54.07 200.10,52.20 200.40,52.07 200.94,53.09 201.48,52.01 201.50,52.60 202.02,53.29 202.55,52.64 203.00,54.40 203.09,53.71 203.63,51.69 204.17,52.19 204.40,50.00 204.71,50.25 205.24,51.87 205.78,51.07 205.90,51.50 206.32,53.09 206.86,52.40 207.40,54.24 207.40,54.00 207.93,52.62 208.47,54.43 208.80,53.00 209.01,53.13 209.55,55.31 210.09,54.58 210.30,55.90 210.62,56.23 211.16,55.33 211.70,56.84 211.70,56.60 212.24,55.83 212.78,56.47 213.20,55.90 213.31,56.05 213.85,56.68 214.39,56.35 214.70,57.30 214.93,57.05 215.47,56.13 216.00,56.57 216.10,56.60 216.54,54.27 217.08,56.62 217.60,54.40 217.62,53.34 218.16,54.19 218.69,51.49 219.00,51.50 219.23,52.81 219.77,49.77 220.31,51.74 220.50,50.00 220.85,48.92 221.38,50.45 221.92,47.75 222.00,48.60 222.46,48.88 223.00,46.17 223.30,46.00 223.54,47.47 224.07,46.28 224.61,47.42 225.10,46.80 225.15,46.49 225.69,47.67 226.23,46.89 226.60,47.50 226.76,48.72 227.30,48.00 227.70,50.00 227.84,49.50 228.38,48.57 228.92,49.09 229.10,48.60 229.45,48.66 229.99,49.17 230.53,48.68 230.90,49.00 231.07,50.11 231.61,49.05 232.14,50.90 232.68,49.56 232.80,50.40 233.22,53.17 233.76,50.40 234.30,54.02 234.60,53.30 234.83,53.07 235.37,57.90 235.80,57.00 235.91,55.28 236.45,59.47 236.99,57.04 237.20,59.60 237.52,60.56 238.06,58.62 238.60,60.86 239.14,59.92 239.20,60.30 239.68,61.37 240.21,60.36 240.75,62.12 241.29,61.52 241.40,62.50 241.83,63.35 242.37,62.56 242.60,63.90 242.90,63.18 243.44,62.05 243.98,62.69 244.00,62.00 244.52,60.85 245.00,59.60 245.06,61.75 245.59,60.80 246.13,63.40 246.50,64.00 246.67,62.53 247.21,64.73 247.70,65.70 247.75,63.51 248.28,65.15 248.82,62.90 249.20,62.40 249.36,64.23 249.90,64.14 250.44,67.02 250.70,67.50 250.97,65.20 251.50,68.40 251.51,68.35 252.05,63.81 252.50,63.30 252.59,64.58 253.13,60.68 253.60,61.00 253.66,62.28 254.20,58.49 254.50,58.00 254.74,60.70 255.28,60.06 255.80,61.80 255.82,62.28 256.35,60.06 256.89,62.85 257.20,61.50 257.43,60.96 257.97,64.03 258.51,61.61 258.70,63.90 259.04,66.44 259.58,63.63 259.60,68.80 260.12,66.64 260.66,58.09 260.80,56.40 261.20,63.42 261.73,61.31 261.90,63.00 262.27,66.26 262.81,64.70 263.00,69.50 263.35,69.03 263.89,63.39 264.42,66.20 264.50,64.40 264.96,64.74 265.50,67.71 266.00,67.30 266.04,64.97 266.58,66.52 267.11,64.24 267.40,63.00 267.65,66.92 268.19,65.01 268.70,70.50 268.73,69.27 269.27,64.56 269.80,66.84 270.30,61.50 270.34,62.78 270.88,66.85 271.42,60.78 271.80,65.10 271.96,66.97 272.49,62.27 273.03,67.52 273.10,69.00 273.57,59.74 274.11,61.43 274.30,54.90 274.65,56.11 275.18,63.62 275.30,58.00 275.72,57.77 276.26,64.57 276.50,61.10 276.80,60.14 277.34,66.41 277.87,62.30 277.90,64.80 278.41,66.08 278.95,60.81 279.00,67.70 279.49,66.76 280.03,59.56 280.10,64.80 280.56,61.80 280.90,55.60 281.10,49.52 281.64,57.03 281.80,52.50 282.18,50.76 282.72,55.91 283.00,46.40 283.25,47.45 283.79,53.49 284.33,52.48 284.50,56.00 284.87,56.32 285.41,50.97 285.94,55.58 286.00,52.60 286.48,52.41 287.02,56.88 287.40,54.60 287.56,52.61 288.10,59.33 288.63,56.70 288.90,59.00 289.17,60.26 289.71,58.03 290.25,62.84 290.30,62.60 290.79,59.50 291.32,61.88 291.80,60.40 291.86,58.91 292.40,60.88 292.94,57.87 293.20,59.00 293.48,59.64 294.01,56.37 294.55,58.21 294.70,55.30 295.09,55.34 295.63,56.97 296.17,54.62 296.20,56.80 296.70,56.32 297.24,53.21 297.60,53.80 297.78,56.06 298.32,50.71 298.86,53.82 299.10,52.40 299.39,51.25 299.93,53.42 300.47,48.85 300.70,48.50 301.01,53.90 301.55,50.65 302.00,54.80 302.08,57.71 302.62,53.07 303.10,60.40 303.16,59.16 303.70,54.01 304.20,57.00 304.24,57.10 304.77,53.23 305.31,55.71 305.70,53.80 305.85,50.59 306.39,54.67 306.93,46.59 307.10,46.00 307.46,50.61 308.00,46.19 308.54,49.19 308.60,46.50 309.08,48.14 309.62,51.28 310.00,53.80 310.15,48.66 310.69,51.29 311.23,47.84 311.50,48.20 311.77,50.10 312.31,46.35 312.84,51.61 312.90,46.20 313.38,47.59 313.92,54.92 314.40,53.30 314.46,50.30 315.00,58.42 315.53,52.71 315.80,58.40 316.07,59.81 316.61,54.30 317.15,61.12 317.30,60.60 317.69,55.95 318.22,56.85 318.76,51.96 318.80,50.40 319.30,55.34 319.84,51.92 320.20,55.50 320.38,56.13 320.91,52.66 321.45,53.34 321.70,51.80 321.99,51.62 322.53,54.64 323.07,53.58 323.10,55.50 323.60,54.66 324.14,52.12 324.60,50.40 324.68,53.06 325.22,51.32 325.76,54.39 326.10,54.20 326.29,53.39 326.83,56.26 327.37,53.14 327.50,57.70 327.91,56.62 328.45,52.27 328.98,53.76 329.00,51.80 329.52,48.68 330.06,53.12 330.40,48.40 330.60,48.84 331.14,51.48 331.67,48.37 331.90,48.90 332.21,56.36 332.60,60.60 332.75,53.84 333.29,56.23 333.83,48.08 334.36,53.11 334.80,45.50 334.90,47.08 335.44,52.86 335.98,49.68 336.20,52.00 336.52,52.50 337.05,49.63 337.59,53.02 337.70,52.10 338.13,48.13 338.50,48.90 338.67,52.02 339.20,45.50 339.21,46.77 339.74,52.52 340.28,48.17 340.70,53.50 340.82,54.27 341.36,51.33 341.40,57.00 341.90,53.98 342.43,50.12 342.80,50.40 342.97,52.74 343.51,47.65 343.60,47.00 344.05,50.93 344.30,47.50 344.59,47.38 345.12,49.94 345.66,46.92 345.80,49.00 346.20,51.12 346.50,45.50 346.74,46.15 347.28,51.58 347.81,48.61 347.90,50.60 348.35,55.85 348.70,56.20 348.89,50.96 349.43,55.95 349.60,55.00 349.97,53.06 350.50,55.67 350.80,54.80 351.04,53.33 351.58,58.51 352.12,52.65 352.30,59.10 352.66,58.34 353.19,51.00 353.73,51.90 353.80,45.50 354.27,47.72 354.81,54.74 355.20,54.80 355.35,51.84 355.88,55.35 356.42,49.20 356.70,53.50 356.96,53.52 357.50,49.89 358.04,53.50 358.10,51.50 358.57,47.80 358.90,43.30 359.11,51.16 359.65,49.36 360.19,57.58 360.30,59.10 360.73,50.56 361.26,52.43 361.80,47.00 361.80,45.74 362.34,50.49 362.88,46.77 362.90,46.20 363.42,52.73 363.95,48.88 364.40,54.00 364.49,52.06 365.03,46.95 365.57,48.65 365.80,43.30 366.11,44.67 366.64,50.69 367.18,49.87 367.30,52.00 367.72,57.06 367.80,57.00 368.26,50.38 368.80,54.54 369.00,50.60 369.33,49.45 369.87,54.19 370.30,54.20 370.41,52.45 370.95,53.88 371.49,50.18 371.60,49.00 372.02,51.89 372.56,48.99 373.00,52.50 373.10,54.20 373.50,58.40 373.64,51.38 374.18,54.73 374.71,46.87 375.00,47.70 375.25,51.78 375.79,43.86 376.00,44.80 376.33,53.40 376.60,57.00 376.87,48.40 377.40,49.81 377.50,44.00 377.94,45.14 378.48,51.27 379.00,52.50 379.02,47.55 379.56,51.85 380.09,45.90 380.40,47.00 380.63,47.79 380.90,42.20 381.17,41.92 381.71,45.85 381.90,41.80 382.25,43.35 382.78,46.78 383.20,49.00 383.32,43.61 383.86,48.18 384.40,40.86 384.80,44.00 384.94,46.06 385.47,38.77 386.01,41.49 386.30,37.50 386.55,35.94 387.09,41.06 387.63,37.51 387.70,39.60 388.16,40.21 388.70,34.89 389.20,36.00 389.24,39.03 389.78,35.76 390.32,44.75 390.70,47.70 390.85,37.98 391.39,37.63 391.50,28.40 391.93,34.28 392.30,40.20 392.47,42.49 393.01,35.78 393.54,39.63 393.70,32.00 394.08,35.02 394.62,44.96 394.90,45.30 395.16,40.86 395.70,48.66 396.23,45.31 396.40,49.00 396.77,53.09 397.31,45.08 397.80,51.10 397.85,55.57 398.39,49.92 398.92,56.57 399.46,53.10 399.90,61.60 400.00,59.00 400.54,45.76 400.80,46.80 401.08,53.26 401.60,41.50 401.61,40.92 402.15,52.48 402.40,47.50 402.69,41.66 403.20,43.00 403.23,47.03 403.70,40.90 403.77,42.02 404.30,46.43 404.50,47.00 404.84,44.65 405.20,44.50 405.38,46.67 405.92,46.22 406.00,49.00 406.46,45.90 406.60,42.40 406.99,44.37 407.40,47.50 407.53,47.23 408.00,44.00 408.07,44.00 408.61,47.08 408.80,48.50 409.15,43.13 409.50,40.90 409.68,47.04 410.20,46.00 410.22,43.64 410.76,46.92 410.90,43.00 411.30,44.49 411.60,50.00 411.84,54.50 411.90,59.60 412.37,48.15 412.60,49.00 412.91,49.60 413.30,45.00 413.45,43.58 413.99,50.71 414.00,50.00 414.53,42.46 414.70,44.00 415.06,47.82 415.40,43.10 415.60,43.33 416.10,47.50 416.14,46.84 416.68,40.91 416.80,39.50 417.22,45.45 417.50,44.00 417.75,40.87 418.29,43.09 418.30,38.00 418.83,42.12 419.00,45.00 419.37,47.44 419.70,51.50 419.91,44.61 420.40,42.00 420.44,45.37 420.98,39.25 421.20,39.50 421.52,44.68 421.90,46.00 422.06,41.38 422.60,43.26 422.60,41.00 423.13,43.42 423.30,47.00 423.67,44.09 424.10,38.00 424.21,39.29 424.75,45.84 424.80,45.00 425.29,40.89 425.50,40.00 425.82,44.04 426.20,47.00 426.36,42.80 426.90,43.30 427.00,40.20 427.44,41.27 427.70,45.00 427.98,47.39 428.50,43.00 428.51,43.17 429.05,49.61 429.20,48.00 429.59,43.91 429.90,48.75 430.13,54.76 430.67,50.62 431.18,58.43 431.20,59.59 431.74,49.48 432.15,49.05 432.28,54.59 432.82,53.71 433.14,56.99 433.36,58.01 433.89,54.09 434.09,55.69 434.43,59.07 434.97,57.86 435.33,63.99 435.51,61.59 436.05,55.18 436.45,53.32 436.58,57.44 437.12,56.65 437.45,62.75 437.66,61.81 438.20,53.37 438.53,54.40 438.74,59.25 439.27,53.63 439.80,63.22 439.81,61.81 440.35,53.78 440.78,51.01 440.80,43.30 440.89,52.78 441.43,50.17 441.96,60.15 442.06,59.23 442.50,53.14 443.04,55.89 443.31,49.19 443.58,50.86 444.12,65.33 444.58,66.05 444.65,56.68 445.19,66.83 445.73,53.71 445.83,58.22 446.27,67.63 446.81,67.84 447.30,76.70 447.34,75.04 447.88,67.50 448.30,66.00 448.42,70.82 448.96,69.30 449.50,76.04 449.50,74.50 450.03,73.65 450.57,76.69 451.00,76.00 451.11,75.24 451.65,78.04 452.19,76.28 452.40,78.10 452.72,79.36 453.26,78.83 453.80,80.74 453.90,80.30 454.34,81.42 454.60,84.40 454.88,84.46 455.41,82.18 455.95,84.15 456.10,82.30 456.49,82.58 457.03,85.76 457.20,85.00 457.57,84.89 458.10,88.01 458.20,87.30 458.64,87.05 459.18,88.88 459.70,88.80 459.72,87.84 460.26,90.57 460.79,90.44 461.20,92.40 461.33,92.77 461.87,91.09 462.41,91.96 462.60,91.40 462.95,91.56 463.48,93.16 464.02,93.02 464.10,94.60 464.56,93.24 465.10,90.24 465.50,88.00 465.64,90.34 466.17,91.27 466.71,94.66 467.00,96.10 467.25,93.19 467.79,93.62 468.30,91.00 468.33,90.24 468.86,90.80 469.40,86.23 469.60,86.60 469.94,90.89 470.48,87.78 470.90,93.10 471.02,92.35 471.50,85.80 471.55,84.05 472.09,83.16 472.50,77.50 472.63,79.57 473.17,85.06 473.30,83.00 473.71,84.35 474.24,89.00 474.40,89.50 474.78,86.97 475.32,89.55 475.60,87.00 475.86,85.69 476.40,89.51 476.90,84.40 476.93,86.18 477.30,94.60 477.47,96.37 478.01,92.26 478.30,96.50 478.55,99.59 479.09,95.55 479.50,99.00 479.62,102.85 480.16,102.58 480.70,109.51 480.70,108.10 481.24,105.79 481.78,113.90 482.10,112.50 482.31,110.85 482.85,116.20 483.39,112.72 483.93,119.43 484.30,116.90 484.47,116.97 485.00,121.98 485.50,122.00 485.54,118.68 486.08,127.83 486.50,128.60 486.62,125.13 487.16,132.31 487.50,131.60 487.69,129.19 488.23,135.15 488.60,138.10 488.77,133.41 489.31,133.44 489.70,128.30 489.85,129.54 490.38,132.98 490.92,133.00 491.40,134.90 491.46,136.57 492.00,134.25 492.54,137.62 493.00,136.50 493.07,135.28 493.61,138.43 494.15,138.31 494.60,141.40 494.69,140.96 495.23,138.75 495.76,140.28 496.30,136.00 496.30,136.62 496.84,143.19 497.38,142.87 497.50,145.00 497.92,148.76 498.45,146.88 498.60,151.60 498.99,151.77 499.53,147.99 500.07,149.25 500.61,147.30 500.80,147.20 501.14,148.98 501.68,146.52 501.80,146.90 502.22,150.86 502.76,150.30 503.00,152.70 503.30,154.25 503.83,152.16 504.10,154.90 504.37,157.51 504.91,155.63 505.45,159.31 505.99,157.83 506.30,159.20 506.52,163.35 507.06,162.36 507.40,166.90 507.60,167.36 508.14,163.84 508.20,165.50 508.68,171.02 509.20,174.00 509.21,171.19 509.75,173.31 510.29,169.52 510.50,168.80 510.83,171.89 511.37,172.12 511.70,175.20 511.90,176.51 512.44,174.36 512.98,178.87 513.52,176.07 513.70,177.80 514.06,180.75 514.59,178.23 515.13,181.88 515.60,181.60 515.67,180.79 516.20,188.00 516.21,187.49 516.75,183.48 517.28,183.47 517.82,180.16 518.10,179.10 518.36,181.54 518.90,180.38 519.40,180.30 519.44,182.96 519.97,183.02 520.10,184.20 520.51,186.30 521.05,184.57 521.30,186.70 521.59,189.46 522.13,187.87 522.60,191.90 522.66,192.57 523.20,188.62 523.30,188.00 523.74,193.27 523.90,194.40" fill="none" stroke="#ff0000" stroke-width="1.6" stroke-linejoin="round" stroke-linecap="butt"/>
<path d="M55 20.5 H546 M55 205.7 H546" fill="none" stroke="#000" stroke-width="1.2"/>
<path d="M55 20 V206.1 M546 20 V206.1" fill="none" stroke="#000" stroke-width="1.1"/>
<line x1="51.5" x2="55" y1="23.30" y2="23.30" stroke="#000" stroke-width="1"/>
<text x="47.4" y="27.00" class="tk" text-anchor="end">1260</text>
<line x1="51.5" x2="55" y1="44.26" y2="44.26" stroke="#000" stroke-width="1"/>
<text x="47.4" y="47.96" class="tk" text-anchor="end">1250</text>
<line x1="51.5" x2="55" y1="65.21" y2="65.21" stroke="#000" stroke-width="1"/>
<text x="47.4" y="68.91" class="tk" text-anchor="end">1240</text>
<line x1="51.5" x2="55" y1="86.17" y2="86.17" stroke="#000" stroke-width="1"/>
<text x="47.4" y="89.87" class="tk" text-anchor="end">1230</text>
<line x1="51.5" x2="55" y1="107.12" y2="107.12" stroke="#000" stroke-width="1"/>
<text x="47.4" y="110.82" class="tk" text-anchor="end">1220</text>
<line x1="51.5" x2="55" y1="128.08" y2="128.08" stroke="#000" stroke-width="1"/>
<text x="47.4" y="131.78" class="tk" text-anchor="end">1210</text>
<line x1="51.5" x2="55" y1="149.04" y2="149.04" stroke="#000" stroke-width="1"/>
<text x="47.4" y="152.74" class="tk" text-anchor="end">1200</text>
<line x1="51.5" x2="55" y1="169.99" y2="169.99" stroke="#000" stroke-width="1"/>
<text x="47.4" y="173.69" class="tk" text-anchor="end">1190</text>
<line x1="51.5" x2="55" y1="190.95" y2="190.95" stroke="#000" stroke-width="1"/>
<text x="47.4" y="194.65" class="tk" text-anchor="end">1180</text>
<line x1="77.20" x2="77.20" y1="205.5" y2="209.0" stroke="#000" stroke-width="1"/>
<text x="77.20" y="221" class="tk" text-anchor="middle">0</text>
<line x1="184.80" x2="184.80" y1="205.5" y2="209.0" stroke="#000" stroke-width="1"/>
<text x="184.80" y="221" class="tk" text-anchor="middle">200</text>
<line x1="292.40" x2="292.40" y1="205.5" y2="209.0" stroke="#000" stroke-width="1"/>
<text x="292.40" y="221" class="tk" text-anchor="middle">400</text>
<line x1="400.00" x2="400.00" y1="205.5" y2="209.0" stroke="#000" stroke-width="1"/>
<text x="400.00" y="221" class="tk" text-anchor="middle">600</text>
<line x1="507.60" x2="507.60" y1="205.5" y2="209.0" stroke="#000" stroke-width="1"/>
<text x="507.60" y="221" class="tk" text-anchor="middle">800</text>
<text x="300.7" y="14" class="lb" text-anchor="middle">Heating Zone 10</text>
<text x="300.9" y="237" class="lb" text-anchor="middle">Time(30 Seconds)</text>
<text transform="translate(15,113.5) rotate(-90)" x="0" y="0" class="lb" text-anchor="middle">Temperature(°C)</text>
<text x="275.6" y="266.6" class="bl" text-anchor="middle">(i)</text>
<rect x="62.5" y="130" width="174.7" height="68" rx="2.5" fill="#fff" fill-opacity="0.8" stroke="#ccc" stroke-width="1"/>
<line x1="67.4" x2="99.1" y1="141.15" y2="141.15" stroke="#0000ff" stroke-width="1.5"/>
<text x="111.5" y="146.15" class="lb">Actual Temperature</text>
<line x1="67.4" x2="99.1" y1="162.30" y2="162.30" stroke="#008000" stroke-width="1.5"/>
<text x="111.5" y="167.45" class="lb">self-TL-TCN</text>
<line x1="67.4" x2="99.1" y1="183.45" y2="183.45" stroke="#ff0000" stroke-width="1.5"/>
<text x="111.5" y="188.75" class="lb">TL-TCN</text>
</svg>
</body></html>
